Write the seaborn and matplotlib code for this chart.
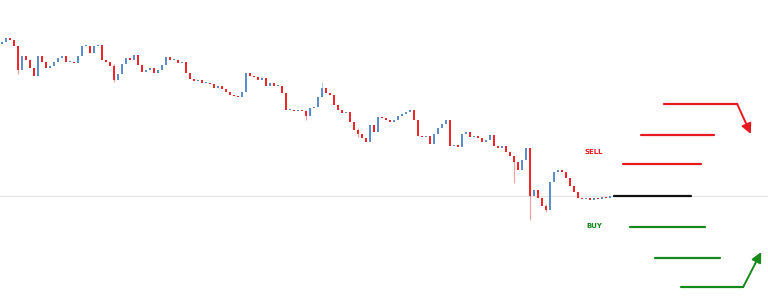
import numpy as np
import pandas as pd
import matplotlib
matplotlib.use("Agg")
import matplotlib.pyplot as plt
import seaborn as sns

# ---------------- data ----------------
first_open = 256
closes = [258, 262, 260, 254, 230, 244, 240, 232, 224, 244, 238, 232, 234, 238, 242, 244,
          238, 238, 237, 244, 254, 254, 247, 254, 255, 240, 238, 234, 220, 226, 236, 242,
          240, 245, 235, 228, 230, 232, 227, 230, 235, 243, 240, 240, 237, 238, 227, 221,
          219, 220, 217, 217, 216, 212, 214, 211, 208, 205, 204, 203, 208, 227, 224, 223,
          220, 222, 214, 217, 214, 214, 207, 190, 190, 189, 190, 189, 184, 192, 193, 203,
          212, 207, 205, 195, 190, 187, 188, 178, 170, 166, 162, 158, 175, 168, 183, 182,
          180, 178, 180, 184, 186, 188, 190, 180, 164, 163, 164, 156, 166, 172, 176, 180,
          154, 155, 153, 166, 168, 163, 164, 162, 158, 160, 165, 154, 152, 154, 148, 144,
          138, 130, 140, 152, 104, 110, 102, 94, 90, 118, 128, 130, 128, 122, 114, 108,
          102, 101, 102, 100, 102, 101, 103, 102, 104, 103]
opens = [first_open] + closes[:-1]

# visible long wicks: candle index -> (low, high)
wicks = {4: (226, 254), 28: (218, 236), 76: (180, 190), 80: (203, 218),
         89: (163, 172), 128: (117, 144), 132: (80, 152), 136: (88, 96)}

current_price = 104
level_names = ["R3", "R2", "R1", "Pivot", "S1", "S2", "S3"]
level_prices = [196, 165, 136, 104, 73, 42, 13]
level_start = [165.5, 159.8, 155.2, 153.0, 157.0, 163.2, 169.8]
level_end = [183.8, 178.0, 174.8, 172.3, 175.8, 179.5, 185.3]
level_colors = ["#e8191e", "#e8191e", "#e8191e", "#111111", "#15891a", "#15891a", "#15891a"]

sell_label, sell_pos = "SELL", (148, 148)
buy_label, buy_pos = "BUY", (148, 74)

# ---------------- plot ----------------
sns.set_theme(style="white")
fig = plt.figure(figsize=(7.68, 3.0), dpi=100)
ax = fig.add_axes([0, 0, 1, 1])

up_col, dn_col = "#5a8ec8", "#f0262a"
idx = np.arange(len(closes))
o = np.array(opens, dtype=float)
c = np.array(closes, dtype=float)
h = c - o
h = np.where(np.abs(h) < 1.2, np.where(h >= 0, 1.2, -1.2), h)
cols = [up_col if cc >= oo else dn_col for oo, cc in zip(o, c)]
ax.bar(idx, h, bottom=o, width=0.72, color=cols, linewidth=0, zorder=3)

for i, (lo, hi) in wicks.items():
    ax.vlines(i, lo, hi, color=cols[i], lw=0.8, alpha=0.45, zorder=2)

# reference line for current price
ax.axhline(current_price, color="#e4e4e4", lw=0.8, zorder=1)

# levels via seaborn
rows = []
for n, p, s, e in zip(level_names, level_prices, level_start, level_end):
    rows.append({"level": n, "x": s, "price": p})
    rows.append({"level": n, "x": e, "price": p})
df = pd.DataFrame(rows)
sns.lineplot(data=df, x="x", y="price", hue="level", units="level", estimator=None,
             palette=dict(zip(level_names, level_colors)), linewidth=1.6, legend=False,
             ax=ax, zorder=4)

# arrows
ax.annotate("", xy=(187.2, 166), xytext=(level_end[0], level_prices[0]),
            arrowprops=dict(arrowstyle="-|>,head_length=0.5,head_width=0.25",
                            color=level_colors[0], lw=1.4, shrinkA=0, shrinkB=0))
ax.annotate("", xy=(189.8, 48), xytext=(level_end[-1], level_prices[-1]),
            arrowprops=dict(arrowstyle="-|>,head_length=0.5,head_width=0.25",
                            color=level_colors[-1], lw=1.4, shrinkA=0, shrinkB=0))

ax.text(*sell_pos, sell_label, color="#e8191e", fontsize=5, fontweight="bold",
        ha="center", va="center")
ax.text(*buy_pos, buy_label, color="#15891a", fontsize=5, fontweight="bold",
        ha="center", va="center")

ax.set_xlim(-0.5, 191.5)
ax.set_ylim(0, 300)
ax.set_axis_off()
fig.savefig("out.png", dpi=100, facecolor="white")
